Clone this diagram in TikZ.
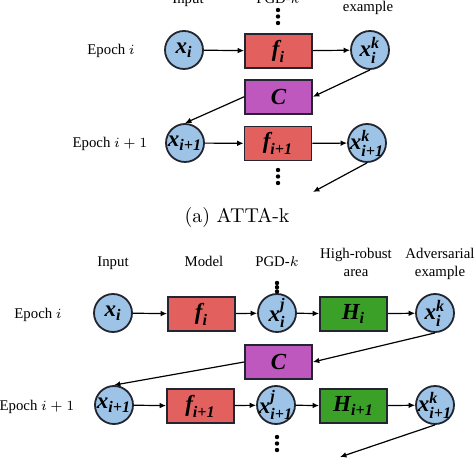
\documentclass[tikz,border=0pt]{standalone}
\usepackage{fontspec}
\usepackage{amsmath}
\usetikzlibrary{positioning}
\usetikzlibrary{arrows.meta}
\newfontfamily\labfont{Liberation Serif}
\definecolor{lightblue}{RGB}{157,195,230}
\definecolor{red}{RGB}{226,96,94}
\definecolor{purple}{RGB}{190,88,190}
\definecolor{green}{RGB}{58,160,40}
\definecolor{border}{RGB}{35,38,48}
\newcommand{\bi}[1]{\text{\labfont\bfseries\itshape #1}}
\newcommand{\vlab}[1]{\makebox[0pt]{$#1$}}

\begin{document}
\begin{tikzpicture}[x=0.5pt, y=-0.5pt, >={Latex[length=3.2pt,width=2.8pt]},
    var/.style={circle, draw=border, line width=0.9pt, fill=lightblue, minimum size=19pt, inner sep=0pt, font=\fontsize{11.5}{13}\selectfont},
    box/.style={rectangle, draw=border, line width=0.9pt, minimum width=33.5pt, minimum height=17pt, inner sep=0pt, font=\fontsize{11.5}{13}\selectfont},
    lab/.style={anchor=base, align=center, font=\labfont\fontsize{7.4}{9}\selectfont},
    flow/.style={->, line width=0.6pt, draw=black}]
    \useasboundingbox (0,0) rectangle (474,474);

    % (a) ATTA-k
    \node (xa) [var] at (184,50) {\vlab{\bi{x}_{\bi{i}}}};
    \node (fa) [box, fill=red] at (278.5,51) {\vlab{\bi{f}_{\bi{i}}}};
    \node (xka) [var] at (370,50) {\vlab{\bi{x}_{\bi{i}}^{\bi{k}}}};
    \node (ca) [box, fill=purple, below=5pt of fa] {\vlab{\bi{C}}};
    \node (xb) [var] at (185,143) {\vlab{\bi{x}_{\bi{i+1}}}};
    \node (fb) [box, fill=red] at (278,143.5) {\vlab{\bi{f}_{\bi{i+1}}}};
    \node (xkb) [var] at (367,143) {\vlab{\bi{x}_{\bi{i+1}}^{\bi{k}}}};
    \coordinate (enda) at (313,192);

    \node (ina) [lab] at (188,4) {Input};
    \node (pgda) [lab] at (278,4) {PGD-$k$};
    \node (adva) [lab] at (368,12) {Adversarial\\example};
    \node (epa) [lab] at (111,55) {Epoch $i$};
    \node (epb) [lab] at (110,148) {Epoch $i+1$};
    \node (capa) [anchor=base] at (237,223) {(a) ATTA-k};

    \foreach \d in {0,1,2} {
        \fill (278,10+6.5*\d) circle (1.1pt);
        \fill (278,170+6.5*\d) circle (1.1pt);
    }

    \draw[flow] (xa) -- (fa);
    \draw[flow] (fa) -- (xka);
    \draw[flow] (xka.south) -- (ca.east);
    \draw[flow] (ca.west) -- (xb.north);
    \draw[flow] (xb) -- (fb);
    \draw[flow] (fb) -- (xkb);
    \draw[flow] (xkb.south) -- (enda);

    % (b) with high-robust area
    \node (xc) [var] at (113,313) {\vlab{\bi{x}_{\bi{i}}}};
    \node (fc) [box, fill=red] at (201.5,314) {\vlab{\bi{f}_{\bi{i}}}};
    \node (xjc) [var] at (277,313) {\vlab{\bi{x}_{\bi{i}}^{\bi{j}}}};
    \node (hc) [box, fill=green] at (353.5,314) {\vlab{\bi{H}_{\bi{i}}}};
    \node (xkc) [var] at (435,313) {\vlab{\bi{x}_{\bi{i}}^{\bi{k}}}};
    \node (cc) [box, fill=purple] at (278.5,362) {\vlab{\bi{C}}};
    \node (xd) [var] at (114,405) {\vlab{\bi{x}_{\bi{i+1}}}};
    \node (fd) [box, fill=red] at (200.5,406) {\vlab{\bi{f}_{\bi{i+1}}}};
    \node (xjd) [var] at (276,405) {\vlab{\bi{x}_{\bi{i+1}}^{\bi{j}}}};
    \node (hd) [box, fill=green] at (353.5,406) {\vlab{\bi{H}_{\bi{i+1}}}};
    \node (xkd) [var] at (435,405) {\vlab{\bi{x}_{\bi{i+1}}^{\bi{k}}}};
    \coordinate (endc) at (340,457);

    \node (inc) [lab] at (113,267) {Input};
    \node (modc) [lab] at (204,267) {Model};
    \node (pgdc) [lab] at (277,267) {PGD-$k$};
    \node (hrc) [lab] at (356,277) {High-robust\\area};
    \node (advc) [lab] at (440,277) {Adversarial\\example};
    \node (epc) [lab] at (38,318) {Epoch $i$};
    \node (epd) [lab] at (37,410) {Epoch $i+1$};

    \foreach \d in {0,1,2} {
        \fill (277,283+4.2*\d) circle (1.1pt);
        \fill (277,437+6.5*\d) circle (1.1pt);
    }

    \draw[flow] (xc) -- (fc);
    \draw[flow] (fc) -- (xjc);
    \draw[flow] (xjc) -- (hc);
    \draw[flow] (hc) -- (xkc);
    \draw[flow] (xkc.south) -- (cc.east);
    \draw[flow] (cc.west) -- (xd.north);
    \draw[flow] (xd) -- (fd);
    \draw[flow] (fd) -- (xjd);
    \draw[flow] (xjd) -- (hd);
    \draw[flow] (hd) -- (xkd);
    \draw[flow] (xkd.south) -- (endc);
\end{tikzpicture}
\end{document}
